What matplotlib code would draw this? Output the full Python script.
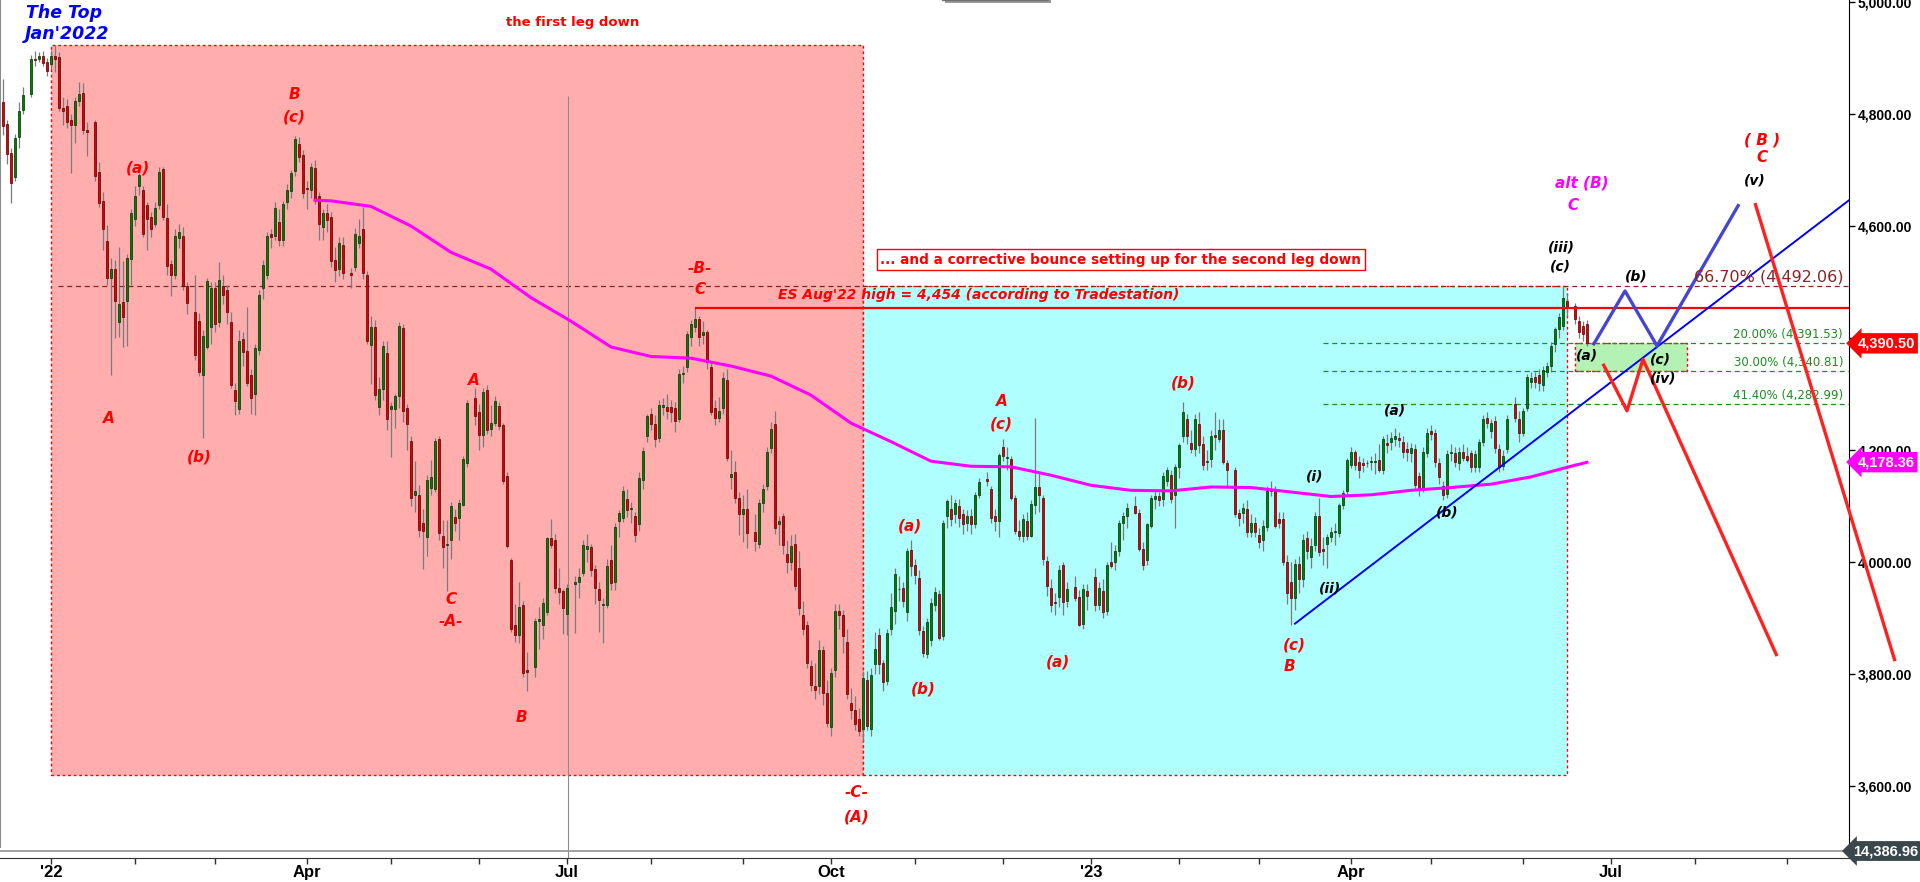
import matplotlib
matplotlib.use("Agg")
import matplotlib.pyplot as plt
import matplotlib.transforms as mtransforms
from matplotlib.patches import Rectangle
from matplotlib.ticker import FuncFormatter, FixedLocator
import numpy as np
import pandas as pd

# ---- data (daily bars, back-adjusted ES) ----
first_day = "2021-12-16"
last_day = "2023-06-23"
holidays = ["2021-12-24", "2022-01-17", "2022-02-21", "2022-04-15", "2022-05-30",
            "2022-06-20", "2022-07-04", "2022-09-05", "2022-11-24", "2022-12-26",
            "2023-01-02", "2023-01-16", "2023-02-20", "2023-05-29", "2023-06-19"]

# one row per week
opens = [
    4821, 4783,
    4730, 4687, 4759, 4807,
    4835, 4898, 4899, 4903, 4892,
    4889, 4903, 4901, 4810, 4814,
    4790, 4780, 4823, 4838, 4771,
    4785, 4696, 4645, 4574,
    4507, 4523, 4428, 4464, 4466,
    4541, 4612, 4671, 4665, 4637,
    4616, 4603, 4637, 4701, 4614,
    4532, 4512, 4578, 4583, 4493,
    4446, 4431, 4334, 4384,
    4420, 4489, 4428, 4492, 4486,
    4428, 4307, 4273, 4399, 4377,
    4334, 4300, 4379, 4489, 4512,
    4586, 4583, 4607, 4575, 4643,
    4662, 4698, 4747, 4726, 4668,
    4665, 4703, 4653, 4598, 4623,
    4616, 4539, 4523, 4566,
    4516, 4526, 4569, 4595, 4513,
    4387, 4420, 4277, 4309, 4373,
    4273, 4273, 4297, 4418, 4275,
    4216, 4120, 4120, 4070, 4045,
    4133, 4131, 4220, 4047, 4030,
    4040, 4081, 4079, 4102, 4176,
    4293, 4267, 4227, 4307,
    4238, 4249, 4278, 4245, 4154,
    4003, 3888, 3870, 3924, 3808,
    3812, 3894, 3888, 3910,
    4042, 4040, 3954, 3949, 3908,
    3960, 3965, 3981, 4024,
    4026, 3988, 3951, 3924, 3924,
    4004, 3965, 4074, 4079, 4113,
    4095, 4083, 4067, 4147, 4225,
    4264, 4247, 4222, 4277, 4277,
    4277, 4275, 4255, 4336, 4348,
    4402, 4420, 4434, 4405, 4411,
    4348, 4275, 4257, 4275, 4325,
    4152, 4161, 4115, 4085, 4095,
    4054, 4033, 4106, 4136,
    4204, 4247, 4067, 4082, 4015,
    4000, 4033, 3990, 3906, 3888,
    3815, 3778, 3778, 3842, 3766,
    3705, 3808, 3912, 3906, 3857,
    3748, 3735, 3719, 3701, 3790,
    3701, 3817, 3869, 3819, 3787,
    3881, 3912, 3951, 3954, 3910,
    4022, 3994, 3971, 3876, 3836,
    3860, 3924, 3942, 3867, 4083,
    4095, 4085, 4100, 4085, 4070,
    4083, 4067, 4120, 4148,
    4131, 4082, 4073, 4205, 4186,
    4184, 4115, 4056, 4047, 4074,
    4047, 4102, 4134, 4115, 4002,
    3954, 3927, 3938, 3994, 3930,
    3956, 3938, 3890, 3949,
    3974, 3924, 3949, 3912,
    4000, 4000, 4020, 4070, 4082,
    4100, 4088, 4024, 4003,
    4065, 4112, 4118, 4113, 4145,
    4156, 4120, 4170, 4225, 4255,
    4213, 4202, 4247, 4211, 4179,
    4184, 4227, 4220, 4236, 4176,
    4164, 4088, 4088, 4094,
    4054, 4070, 4049, 4040, 4063,
    4127, 4127, 4076, 4076, 4000,
    3965, 3936, 3997, 3970, 4042,
    4009, 4030, 4083, 4024, 4033,
    4045, 4054, 4052, 4102, 4127,
    4173, 4196, 4178, 4176, 4176,
    4178, 4179, 4182, 4164, 4213,
    4215, 4220, 4222, 4215, 4202,
    4194, 4202, 4154, 4131, 4194,
    4234, 4231, 4176, 4135, 4122,
    4195, 4195, 4176, 4197, 4190,
    4194, 4170, 4170, 4215, 4258,
    4234, 4252, 4202, 4172, 4202,
    4282, 4256, 4231, 4275,
    4322, 4331, 4334, 4316, 4340,
    4350, 4389, 4416, 4422, 4466,
    4457, 4430, 4422, 4425,
]
highs = [
    4862, 4790,
    4740, 4765, 4822, 4848,
    4905, 4912, 4910, 4912, 4900,
    4915, 4923, 4910, 4830, 4826,
    4800, 4830, 4858, 4856, 4785,
    4790, 4715, 4660, 4602,
    4543, 4540, 4562, 4538, 4550,
    4630, 4672, 4695, 4672, 4642,
    4625, 4643, 4705, 4705, 4640,
    4540, 4595, 4603, 4598, 4500,
    4512, 4445, 4415, 4508,
    4500, 4500, 4535, 4513, 4495,
    4446, 4320, 4415, 4410, 4456,
    4345, 4390, 4485, 4540, 4590,
    4595, 4642, 4630, 4645, 4675,
    4700, 4760, 4759, 4735, 4680,
    4712, 4718, 4660, 4630, 4640,
    4625, 4562, 4580, 4580,
    4525, 4596, 4612, 4634, 4520,
    4440, 4432, 4330, 4395, 4395,
    4285, 4300, 4428, 4425, 4283,
    4225, 4180, 4138, 4095, 4155,
    4183, 4222, 4225, 4075, 4075,
    4108, 4095, 4112, 4190, 4290,
    4310, 4282, 4310, 4316,
    4280, 4296, 4285, 4248, 4160,
    4008, 3925, 3965, 3930, 3840,
    3900, 3920, 3935, 4045,
    4076, 4050, 3990, 3952, 3960,
    3975, 3990, 4040, 4050,
    4032, 3995, 3965, 3935, 4005,
    4030, 4070, 4092, 4135, 4130,
    4108, 4090, 4160, 4205, 4265,
    4275, 4262, 4290, 4292, 4300,
    4290, 4285, 4345, 4350, 4412,
    4432, 4454, 4440, 4430, 4415,
    4355, 4290, 4295, 4340, 4345,
    4200, 4180, 4125, 4120, 4130,
    4085, 4112, 4140, 4205,
    4250, 4270, 4082, 4088, 4040,
    4048, 4050, 4020, 3930, 3895,
    3825, 3820, 3860, 3850, 3790,
    3810, 3925, 3925, 3915, 3880,
    3775, 3760, 3740, 3805, 3805,
    3810, 3875, 3882, 3825, 3880,
    3945, 3990, 3975, 3965, 4025,
    4040, 4005, 3985, 3885, 3900,
    3935, 3955, 3950, 4075, 4112,
    4120, 4112, 4112, 4095, 4092,
    4095, 4125, 4150, 4160,
    4135, 4095, 4195, 4220, 4205,
    4190, 4120, 4075, 4085, 4090,
    4110, 4258, 4160, 4120, 4010,
    3970, 3945, 3995, 4000, 3965,
    3975, 3950, 3960, 3960,
    3990, 3965, 3970, 4000,
    4035, 4030, 4075, 4090, 4105,
    4118, 4095, 4035, 4070,
    4120, 4128, 4125, 4160, 4170,
    4165, 4175, 4212, 4286, 4265,
    4235, 4265, 4268, 4225, 4200,
    4235, 4268, 4255, 4255, 4182,
    4170, 4095, 4105, 4110,
    4085, 4080, 4060, 4075, 4135,
    4145, 4135, 4090, 4090, 4012,
    4000, 4005, 4010, 4050, 4055,
    4042, 4090, 4115, 4045, 4050,
    4062, 4070, 4105, 4128, 4185,
    4205, 4200, 4190, 4185, 4182,
    4190, 4195, 4210, 4225, 4228,
    4232, 4240, 4233, 4225, 4215,
    4212, 4210, 4160, 4205, 4240,
    4245, 4238, 4185, 4145, 4200,
    4210, 4205, 4205, 4210, 4205,
    4200, 4200, 4220, 4262, 4268,
    4255, 4260, 4210, 4200, 4262,
    4295, 4270, 4275, 4335,
    4340, 4340, 4345, 4350, 4358,
    4392, 4420, 4445, 4493, 4480,
    4462, 4440, 4430, 4432,
]
lows = [
    4762, 4710,
    4641, 4680, 4740, 4800,
    4830, 4886, 4893, 4885, 4868,
    4880, 4875, 4805, 4780, 4775,
    4694, 4748, 4815, 4765, 4725,
    4680, 4634, 4557, 4495,
    4334, 4400, 4402, 4384, 4386,
    4494, 4600, 4655, 4580, 4557,
    4580, 4598, 4630, 4610, 4512,
    4475, 4505, 4560, 4485, 4443,
    4360, 4333, 4222, 4380,
    4390, 4410, 4420, 4460, 4425,
    4310, 4262, 4265, 4350, 4315,
    4265, 4262, 4370, 4470, 4505,
    4560, 4575, 4565, 4565, 4630,
    4650, 4690, 4715, 4650, 4630,
    4650, 4640, 4575, 4575, 4590,
    4527, 4500, 4510, 4505,
    4490, 4520, 4560, 4505, 4390,
    4318, 4290, 4262, 4290, 4236,
    4187, 4240, 4275, 4250, 4200,
    4100, 4090, 4045, 3988, 4010,
    4120, 4125, 4040, 3990, 3948,
    4005, 4055, 4040, 4100, 4170,
    4245, 4200, 4205, 4228,
    4225, 4243, 4235, 4140, 4025,
    3875, 3858, 3855, 3795, 3770,
    3795, 3845, 3862, 3905,
    4025, 3945, 3925, 3872, 3870,
    3873, 3935, 3975, 4000,
    3975, 3925, 3875, 3855, 3918,
    3950, 3950, 4045, 4072, 4080,
    4070, 4035, 4055, 4130, 4215,
    4235, 4205, 4215, 4262, 4255,
    4250, 4232, 4250, 4320, 4340,
    4385, 4410, 4385, 4390, 4345,
    4262, 4245, 4250, 4265, 4180,
    4130, 4105, 4048, 4035, 4025,
    4020, 4025, 4090, 4128,
    4195, 4050, 4030, 4015, 3980,
    3985, 3950, 3905, 3870, 3810,
    3770, 3755, 3765, 3745, 3705,
    3690, 3795, 3880, 3838, 3755,
    3720, 3700, 3690, 3680, 3700,
    3690, 3800, 3800, 3770, 3780,
    3870, 3890, 3930, 3920, 3895,
    3975, 3960, 3870, 3830, 3828,
    3850, 3912, 3860, 3860, 4060,
    4065, 4070, 4062, 4050, 4055,
    4050, 4060, 4115, 4135,
    4070, 4055, 4045, 4180, 4165,
    4110, 4050, 4040, 4035, 4040,
    4045, 4085, 4090, 3995, 3940,
    3910, 3905, 3920, 3905, 3920,
    3930, 3885, 3880, 3915,
    3912, 3915, 3900, 3905,
    3990, 3985, 4010, 4040, 4060,
    4085, 4020, 3985, 3995,
    4060, 4095, 4100, 4100, 4135,
    4105, 4060, 4150, 4215, 4210,
    4195, 4190, 4195, 4165, 4165,
    4170, 4200, 4215, 4175, 4135,
    4080, 4065, 4070, 4045,
    4045, 4045, 4025, 4020, 4055,
    4118, 4060, 4060, 3995, 3925,
    3888, 3915, 3945, 3955, 4005,
    3990, 4020, 4010, 3995, 3990,
    4035, 4030, 4045, 4095, 4120,
    4168, 4165, 4150, 4160, 4170,
    4165, 4158, 4160, 4158, 4195,
    4200, 4208, 4205, 4185, 4180,
    4178, 4128, 4118, 4125, 4188,
    4218, 4170, 4140, 4110, 4115,
    4180, 4170, 4165, 4180, 4178,
    4160, 4160, 4160, 4208, 4240,
    4222, 4195, 4160, 4165, 4195,
    4250, 4215, 4225, 4270,
    4310, 4310, 4305, 4305, 4330,
    4340, 4375, 4400, 4415, 4440,
    4425, 4400, 4395, 4385,
]
closes = [
    4778, 4728,
    4676, 4758, 4805, 4834,
    4899, 4897, 4903, 4891, 4876,
    4903, 4898, 4810, 4805, 4785,
    4780, 4823, 4836, 4771, 4768,
    4689, 4641, 4594, 4507,
    4523, 4466, 4461, 4437, 4543,
    4624, 4653, 4691, 4585, 4612,
    4594, 4632, 4696, 4616, 4528,
    4513, 4583, 4589, 4493, 4462,
    4370, 4340, 4404, 4501,
    4489, 4425, 4503, 4477, 4446,
    4316, 4288, 4395, 4375, 4320,
    4293, 4382, 4477, 4530, 4583,
    4580, 4632, 4575, 4639, 4665,
    4694, 4756, 4723, 4659, 4666,
    4705, 4650, 4603, 4623, 4610,
    4537, 4521, 4570, 4516,
    4512, 4586, 4582, 4516, 4395,
    4420, 4298, 4309, 4386, 4255,
    4279, 4297, 4422, 4270, 4247,
    4115, 4126, 4058, 4056, 4147,
    4152, 4216, 4052, 4027, 4030,
    4100, 4070, 4106, 4184, 4284,
    4261, 4227, 4304, 4236,
    4249, 4287, 4243, 4145, 4029,
    3881, 3870, 3920, 3801, 3803,
    3894, 3898, 3927, 4042,
    4031, 3954, 3947, 3918, 3954,
    3964, 3974, 4031, 4029,
    3985, 3954, 3933, 3924, 3992,
    3962, 4063, 4088, 4127, 4093,
    4095, 4049, 4150, 4199, 4261,
    4246, 4220, 4281, 4280, 4270,
    4268, 4252, 4336, 4338, 4407,
    4425, 4434, 4402, 4411, 4357,
    4267, 4257, 4270, 4328, 4185,
    4158, 4115, 4085, 4095, 4051,
    4038, 4106, 4131, 4197,
    4238, 4061, 4074, 4031, 4000,
    4029, 3958, 3918, 3881, 3819,
    3781, 3772, 3842, 3766, 3712,
    3801, 3913, 3906, 3867, 3765,
    3735, 3710, 3699, 3792, 3708,
    3799, 3845, 3817, 3785, 3874,
    3919, 3979, 3951, 3930, 4020,
    3992, 3976, 3878, 3837, 3892,
    3927, 3947, 3865, 4070, 4109,
    4076, 4106, 4079, 4067, 4083,
    4067, 4120, 4143, 4145,
    4079, 4073, 4191, 4190, 4186,
    4115, 4056, 4047, 4076, 4047,
    4104, 4134, 4120, 4006, 3958,
    3924, 3927, 3985, 3928, 3951,
    3936, 3888, 3951, 3940,
    3924, 3954, 3910, 3994,
    3992, 4020, 4070, 4082, 4097,
    4088, 4024, 3994, 4067,
    4115, 4118, 4111, 4154, 4164,
    4113, 4170, 4209, 4267, 4225,
    4202, 4255, 4209, 4173, 4179,
    4225, 4223, 4236, 4179, 4165,
    4085, 4079, 4097, 4054,
    4070, 4054, 4036, 4065, 4127,
    4130, 4065, 4069, 4000, 3945,
    3936, 3997, 3970, 4040, 4020,
    4029, 4082, 4018, 4020, 4045,
    4054, 4056, 4102, 4124, 4182,
    4197, 4173, 4164, 4173, 4177,
    4180, 4179, 4164, 4220, 4209,
    4222, 4225, 4218, 4197, 4197,
    4204, 4138, 4129, 4197, 4231,
    4229, 4179, 4152, 4120, 4193,
    4197, 4179, 4197, 4186, 4182,
    4170, 4193, 4215, 4255, 4249,
    4249, 4204, 4170, 4190, 4255,
    4258, 4231, 4270, 4331,
    4329, 4322, 4320, 4343, 4350,
    4386, 4416, 4437, 4471, 4454,
    4434, 4410, 4407, 4391,
]

# moving average (magenta), sampled off the chart
ma_dates = ["2022-04-05", "2022-04-11", "2022-04-25", "2022-05-09", "2022-05-23",
            "2022-06-06", "2022-06-20", "2022-07-04", "2022-07-18", "2022-08-01",
            "2022-08-15", "2022-08-29", "2022-09-12", "2022-09-26", "2022-10-10",
            "2022-10-24", "2022-11-07", "2022-11-21", "2022-12-05", "2022-12-19",
            "2023-01-02", "2023-01-16", "2023-01-30", "2023-02-13", "2023-02-27",
            "2023-03-13", "2023-03-27", "2023-04-10", "2023-04-24", "2023-05-08",
            "2023-05-22", "2023-06-05", "2023-06-19", "2023-06-23"]
ma_values = [4646, 4645, 4635, 4600, 4553, 4523, 4472, 4430, 4384, 4367,
             4364, 4350, 4332, 4298, 4248, 4215, 4180, 4171, 4170, 4155,
             4137, 4128, 4127, 4134, 4133, 4125, 4117, 4120, 4128, 4133,
             4139, 4152, 4171, 4178]

last_price = 4390.50
ma_last = 4178.36
other_value = 14386.96
aug22_high = 4454
fib_pcts = ["66.70%", "20.00%", "30.00%", "41.40%"]
fib_levels = [4492.06, 4391.53, 4340.81, 4282.99]
price_ticks = [3600, 3800, 4000, 4200, 4400, 4600, 4800, 5000]
quarter_labels = ["'22", "Apr", "Jul", "Oct", "'23", "Apr", "Jul"]

# projected paths (weekday units after the last bar)
blue_path_x = [385.5, 393.5, 401.5, 422]
blue_path_y = [4387, 4484, 4386, 4639]
red_path_x = [388, 394, 398, 431.5]
red_path_y = [4354, 4270, 4362, 3832]
red_alt_x = [426, 461]
red_alt_y = [4641, 3823]
trend_x = [311, 449.5]
trend_y = [3890, 4646]

# ---- weekday axis: one slot per weekday, holidays stay as gaps ----
weekdays = pd.bdate_range("2021-12-01", "2023-10-31")
anchor = weekdays.get_loc(pd.Timestamp("2022-01-03"))


def wpos(d):
    return weekdays.get_loc(pd.Timestamp(d)) - anchor


hol = set(pd.to_datetime(holidays))
days = [d for d in pd.bdate_range(first_day, last_day) if d not in hol]
x = np.array([wpos(d) for d in days], dtype=float)
o = np.array(opens, float)
h = np.array(highs, float)
l = np.array(lows, float)
c = np.array(closes, float)

W, H = 1920, 882
fig = plt.figure(figsize=(W / 100, H / 100), dpi=100)
ax = fig.add_axes([0, 1 - 848 / H, 1849 / W, 848 / H])
axb = fig.add_axes([0, 1 - 858 / H, 1849 / W, 10 / H], sharex=ax)

x_left, x_right = -12.75, 449.5
ax.set_xlim(x_left, x_right)
ax.set_ylim(3489.3, 5003.6)

# shaded boxes
p0, p1 = wpos("2022-01-03"), wpos("2022-10-13")
c1 = wpos("2023-06-16")
ax.add_patch(Rectangle((p0, 3620), p1 - p0, 4923 - 3620, fc="#FFADAD", ec="#FF0000",
                       ls=(0, (2, 2)), lw=1, zorder=0))
ax.add_patch(Rectangle((p1, 3620), c1 - p1, fib_levels[0] - 3620, fc="#B0FFFF", ec="#FF0000",
                       ls=(0, (2, 2)), lw=1, zorder=0))
g0, g1 = wpos("2023-06-20"), wpos("2023-07-28")
ax.add_patch(Rectangle((g0, fib_levels[2]), g1 - g0, fib_levels[1] - fib_levels[2],
                       fc="#B4F2B4", ec="#FF0000", ls=(0, (2, 2)), lw=1, zorder=0))

# fib lines
ax.hlines(fib_levels[0], 1.75, x_right, colors="#8B2323", linestyles=(0, (4, 3)), lw=0.9, zorder=1)
fs = wpos("2023-03-23")
for lev in fib_levels[1:]:
    ax.hlines(lev, fs, x_right, colors="#1E8C1E", linestyles=(0, (4, 3)), lw=0.9, zorder=1)
ax.text(448, fib_levels[0] + 4, f"{fib_pcts[0]} ({fib_levels[0]:,.2f})", color="#8B2323",
        fontsize=11.5, ha="right", va="bottom", zorder=6)
for pct, lev in zip(fib_pcts[1:], fib_levels[1:]):
    ax.text(448, lev + 3, f"{pct} ({lev:,.2f})", color="#1E8C1E", fontsize=8.5,
            ha="right", va="bottom", zorder=6)

# Aug'22 high line
ax.hlines(aug22_high, wpos("2022-08-16"), x_right, colors="#FF0000", lw=1.6, zorder=4)
ax.text(181.75, 4477, f"ES Aug'22 high = {aug22_high:,} (according to Tradestation)",
        color="#FF0000", fontsize=10, fontweight="bold", fontstyle="italic",
        ha="left", va="center", zorder=6)

# Jul marker line
jl = wpos("2022-07-01") + 0.3
ax.vlines(jl, 3489.3, 4832, colors="#8a8a8a", lw=0.8, zorder=1)
axb.axvline(jl, color="#8a8a8a", lw=0.8)

# candles
up = c >= o
lo_b = np.minimum(o, c)
hb = np.maximum(np.abs(c - o), 1.5)
ax.vlines(x, l, h, colors="#7a7a7a", lw=0.9, zorder=2)
ax.bar(x[up], hb[up], bottom=lo_b[up], width=0.72, color="#008000", edgecolor="#003000",
       lw=0.5, zorder=3)
ax.bar(x[~up], hb[~up], bottom=lo_b[~up], width=0.72, color="#E00000", edgecolor="#500000",
       lw=0.5, zorder=3)

# moving average
ax.plot([wpos(d) for d in ma_dates], ma_values, color="#FF00FF", lw=2.2, zorder=4)

# trendline and projections
ax.plot(trend_x, trend_y, color="#0000FF", lw=1.4, zorder=5)
ax.plot(blue_path_x, blue_path_y, color="#4646D2", lw=2.4, zorder=5, solid_capstyle="butt")
ax.plot(red_path_x, red_path_y, color="#FF2020", lw=2.4, zorder=5, solid_capstyle="butt")
ax.plot(red_alt_x, red_alt_y, color="#FF2020", lw=2.4, zorder=7, clip_on=False,
        solid_capstyle="butt")

# texts
lab = dict(fontweight="bold", fontstyle="italic", ha="center", va="center", zorder=8)
ax.text(3.25, 4981, "The Top", color="#0000FF", fontsize=12.5, **lab)
ax.text(4.1, 4943, "Jan'2022", color="#0000FF", fontsize=12.5, **lab)
ax.text(130.5, 4963, "the first leg down", color="#FF0000", fontsize=9.5,
        fontweight="bold", ha="center", va="center")
ax.text(207.3, 4540, "... and a corrective bounce setting up for the second leg down",
        color="#FF0000", fontsize=9.8, fontweight="bold", ha="left", va="center", zorder=8,
        bbox=dict(boxstyle="square,pad=0.25", fc="white", ec="#FF0000", lw=1))

red_labels = [("B", 60.8, 4835), ("(c)", 60.8, 4794), ("(a)", 21.7, 4703), ("A", 14.5, 4257),
              ("(b)", 37, 4188), ("A", 105.6, 4325), ("C", 100, 3933), ("-A-", 100, 3893),
              ("B", 117.5, 3723), ("-B-", 162.25, 4525), ("C", 162.25, 4486),
              ("-C-", 201.5, 3588), ("(A)", 201.5, 3545), ("(a)", 214.75, 4065),
              ("(b)", 218, 3773), ("A", 237.7, 4287), ("(c)", 237.7, 4247),
              ("(a)", 251.8, 3821), ("(b)", 283, 4319), ("(c)", 310.75, 3852),
              ("B", 309.5, 3814), ("( B )", 427.7, 4754), ("C", 427.7, 4723)]
for t, tx, ty in red_labels:
    ax.text(tx, ty, t, color="#FF0000", fontsize=11, **lab)

black_labels = [("(i)", 316, 4152), ("(ii)", 319.75, 3952), ("(a)", 336, 4270),
                ("(b)", 349, 4088), ("(iii)", 377.7, 4562), ("(c)", 377.4, 4528),
                ("(a)", 384, 4369), ("(b)", 396.4, 4509), ("(c)", 402.25, 4361),
                ("(iv)", 403, 4328), ("(v)", 426, 4681)]
for t, tx, ty in black_labels:
    ax.text(tx, ty, t, color="black", fontsize=10, **lab)

ax.text(382.7, 4677, "alt (B)", color="#FF00FF", fontsize=11, **lab)
ax.text(380.5, 4637, "C", color="#FF00FF", fontsize=11, **lab)

# price axis
ax.yaxis.tick_right()
ax.yaxis.set_major_locator(FixedLocator(price_ticks))
ax.yaxis.set_major_formatter(FuncFormatter(lambda v, p: f"{v:,.2f}"))
ax.tick_params(axis="y", direction="out", length=4, width=1, pad=2, labelsize=10)
for t in ax.get_yticklabels():
    t.set_fontweight("bold")
    t.set_fontfamily("Liberation Sans")
ax.tick_params(axis="x", bottom=False, labelbottom=False)
for s in ["top", "bottom"]:
    ax.spines[s].set_visible(False)
ax.spines["left"].set_color("#8a8a8a")
ax.spines["right"].set_color("black")

trans = mtransforms.blended_transform_factory(ax.transAxes, ax.transData)
ax.text(1.0045, last_price, f"{last_price:,.2f}", transform=trans, color="white",
        fontsize=10.5, fontweight="bold", family="Liberation Sans", ha="left", va="center",
        clip_on=False, zorder=10,
        bbox=dict(boxstyle="larrow,pad=0.22", fc="#FF0000", ec="none"))
ax.text(1.0045, ma_last, f"{ma_last:,.2f}", transform=trans, color="white",
        fontsize=10.5, fontweight="bold", family="Liberation Sans", ha="left", va="center",
        clip_on=False, zorder=10,
        bbox=dict(boxstyle="larrow,pad=0.22", fc="#FF00FF", ec="none"))

# lower pane
axb.axhline(other_value, color="#9a9a9a", lw=1.3)
axb.set_ylim(other_value - 0.7, other_value + 0.3)
axb.set_yticks([])
axb.spines["top"].set_visible(False)
axb.spines["left"].set_visible(False)
axb.spines["bottom"].set_color("#303030")
axb.spines["right"].set_color("black")
transb = mtransforms.blended_transform_factory(axb.transAxes, axb.transData)
axb.text(1.002, other_value, f"{other_value:,.2f}", transform=transb, color="white",
         fontsize=10.5, fontweight="bold", family=["Liberation Sans Narrow", "Liberation Sans"],
         ha="left", va="center", clip_on=False, zorder=10,
         bbox=dict(boxstyle="larrow,pad=0.2", fc="#3A474C", ec="none"))

months = pd.date_range("2022-01-01", "2023-09-30", freq="BMS")
major = [m for m in months if m.month in (1, 4, 7, 10)]
minor = [m for m in months if m.month not in (1, 4, 7, 10)]
axb.set_xticks([wpos(m) for m in major])
axb.set_xticklabels(quarter_labels)
axb.set_xticks([wpos(m) for m in minor], minor=True)
axb.tick_params(axis="x", which="both", direction="out", length=4, width=1, pad=1,
                colors="#303030")
for t in axb.get_xticklabels():
    t.set_fontweight("bold")
    t.set_fontsize(12)
    t.set_color("black")
    t.set_fontfamily(["Liberation Sans Narrow", "Liberation Sans"])
axb.set_xlim(x_left, x_right)

# status tooltip cut off at the top edge
fig.text(998 / W, 1 + 5 / H, "Increased bar spacing", fontsize=6.5, ha="center", va="center",
         color="#9a9a9a", bbox=dict(boxstyle="square,pad=0.35", fc="#9a9a9a", ec="none"))
fig.text(995 / W, 1 + 8 / H, "Increased bar spacing", fontsize=6.5, ha="center", va="center",
         bbox=dict(boxstyle="square,pad=0.35", fc="white", ec="#6f6f6f"))

fig.savefig("out.png", dpi=100)
